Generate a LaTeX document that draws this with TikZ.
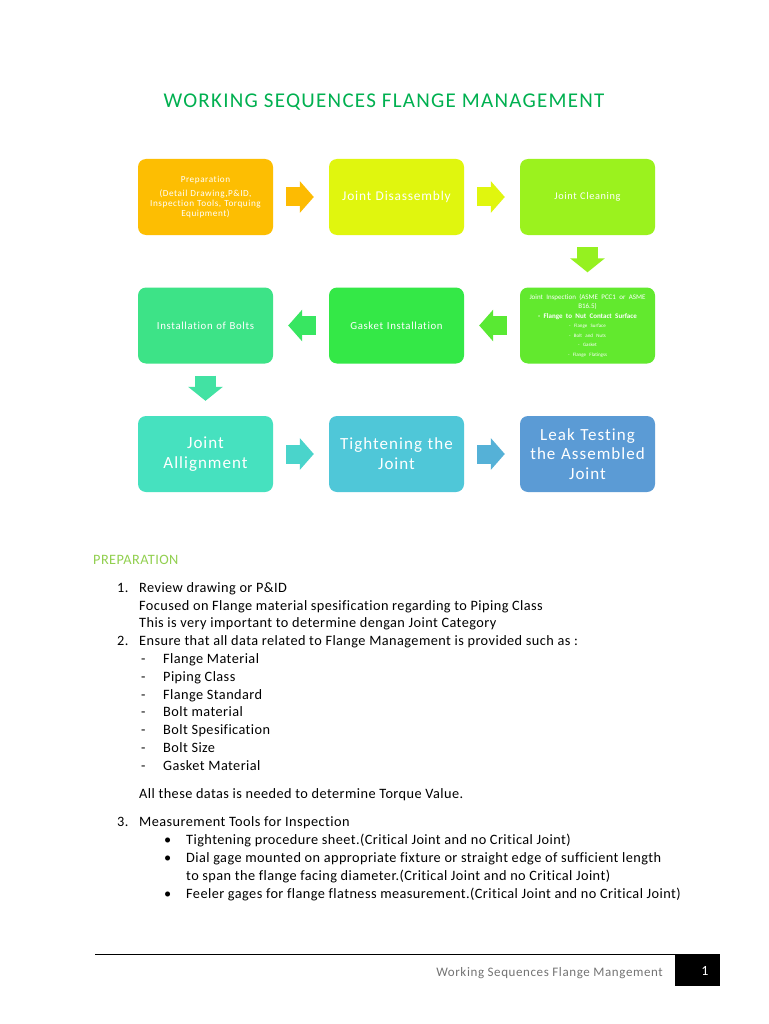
\documentclass[tikz,border=0pt]{standalone}
\usepackage{fontspec}
\setmainfont{Carlito}[Ligatures=NoCommon]
\usetikzlibrary{arrows.meta}

\definecolor{prepC}{HTML}{FDBE02}
\definecolor{disC}{HTML}{E0F60E}
\definecolor{cleC}{HTML}{9BF21E}
\definecolor{inspC}{HTML}{62E92E}
\definecolor{gasC}{HTML}{34E847}
\definecolor{boltC}{HTML}{3DE387}
\definecolor{aligC}{HTML}{46E1BF}
\definecolor{tighC}{HTML}{4FC7D8}
\definecolor{leakC}{HTML}{5B9BD5}
\definecolor{titleC}{HTML}{00B050}
\definecolor{headC}{HTML}{92D050}

\begin{document}
\begin{tikzpicture}[x=1pt, y=-1pt,
  box/.style={rounded corners=8pt, minimum width=135pt, minimum height=76pt, inner sep=2pt, text width=131pt, align=center, text=white},
  blk/.style={line width=19pt, -{Triangle[length=14pt,width=31pt]}, shorten <=13pt, shorten >=15pt},
  blkv/.style={line width=21pt, -{Triangle[length=14pt,width=34pt]}, shorten <=12pt, shorten >=15pt},
  body/.style={anchor=base west, inner sep=0pt, font=\fontsize{14.3}{17.75}\selectfont\addfontfeature{LetterSpace=3}},
  fs/.style 2 args={font=\fontsize{#1}{#2}\selectfont\addfontfeature{LetterSpace=6}}]
            \useasboundingbox (0,0) rectangle (768,1024);
            \fill[white] (0,0) rectangle (768,1024);
            % title
            \node[anchor=base, inner sep=0pt, text=titleC, font=\fontsize{21}{24}\selectfont\addfontfeature{LetterSpace=6}] (title) at (384,108) {WORKING SEQUENCES FLANGE MANAGEMENT};
            % steps
            \node[box, fill=prepC, fs={9.2}{10.2}] (prep) at (205.5,197) {Preparation\\[4pt](Detail Drawing,P\&ID,\\Inspection Tools, Torquing\\Equipment)};
            \node[box, fill=disC, fs={13.4}{16}] (disas) at (396.5,197) {Joint Disassembly};
            \node[box, fill=cleC, fs={10.3}{12}] (clean) at (587.5,197) {Joint Cleaning};
            \node[box, fill=inspC] (insp) at (587.5,325.5) {\fontsize{7}{9.5}\selectfont Joint Inspection (ASME PCC1 or ASME\\B16.5)\par
              \textbf{- Flange to Nut Contact Surface}\par
              \fontsize{5}{9.5}\selectfont - Flange Surface\par - Bolt and Nuts\par - Gasket\par - Flange Flatingss\par};
            \node[box, fill=gasC, fs={10.8}{13}] (gasket) at (396.5,325.5) {Gasket Installation};
            \node[box, fill=boltC, fs={10.8}{13}] (bolts) at (205.5,325.5) {Installation of Bolts};
            \node[box, fill=aligC, fs={17}{20}] (align) at (205.5,454) {Joint\\Allignment};
            \node[box, fill=tighC, fs={17}{20}] (tight) at (396.5,454) {Tightening the\\Joint};
            \node[box, fill=leakC, fs={17}{19.5}] (leak) at (587.5,454) {Leak Testing\\the Assembled\\Joint};
            % arrows
            \draw[blk, color=prepC!95!orange] (prep) -- (disas);
            \draw[blk, color=disC] (disas) -- (clean);
            \draw[blkv, color=cleC!90!inspC] (clean) -- (insp);
            \draw[blk, color=inspC!80!gasC] (insp) -- (gasket);
            \draw[blk, color=gasC!60!boltC] (gasket) -- (bolts);
            \draw[blkv, color=boltC!50!aligC] (bolts) -- (align);
            \draw[blk, color=aligC!50!tighC] (align) -- (tight);
            \draw[blk, color=tighC!50!leakC] (tight) -- (leak);
            % text
            \node[body, text=headC] (prephead) at (93,564.5) {PREPARATION};
            \node[body] (n1) at (117,592.5) {1.};
            \node[body] (l1) at (139,592.5) {Review drawing or P\&ID};
            \node[body] (l2) at (139,610.5) {Focused on Flange material spesification regarding to Piping Class};
            \node[body] (l3) at (139,627.5) {This is very important to determine dengan Joint Category};
            \node[body] (n2) at (117,645.5) {2.};
            \node[body] (l4) at (139,645.5) {Ensure that all data related to Flange Management is provided such as :};
            \node[body] (d1) at (141,663.5) {-};
            \node[body] (i1) at (163,663.5) {Flange Material};
            \node[body] (d2) at (141,681.5) {-};
            \node[body] (i2) at (163,681.5) {Piping Class};
            \node[body] (d3) at (141,699.5) {-};
            \node[body] (i3) at (163,699.5) {Flange Standard};
            \node[body] (d4) at (141,716.5) {-};
            \node[body] (i4) at (163,716.5) {Bolt material};
            \node[body] (d5) at (141,734.5) {-};
            \node[body] (i5) at (163,734.5) {Bolt Spesification};
            \node[body] (d6) at (141,752.5) {-};
            \node[body] (i6) at (163,752.5) {Bolt Size};
            \node[body] (d7) at (141,770.5) {-};
            \node[body] (i7) at (163,770.5) {Gasket Material};
            \node[body] (l5) at (139,798.5) {All these datas is needed to determine Torque Value.};
            \node[body] (n3) at (117,826.5) {3.};
            \node[body] (l6) at (139,826.5) {Measurement Tools for Inspection};
            \node[body] (b1) at (164,844.5) {\textbullet};
            \node[body] (t1) at (186,844.5) {Tightening procedure sheet.(Critical Joint and no Critical Joint)};
            \node[body] (b2) at (164,862.5) {\textbullet};
            \node[body] (t2) at (186,862.5) {Dial gage mounted on appropriate fixture or straight edge of sufficient length};
            \node[body] (t3) at (186,880.5) {to span the flange facing diameter.(Critical Joint and no Critical Joint)};
            \node[body] (b3) at (164,898.5) {\textbullet};
            \node[body] (t4) at (186,898.5) {Feeler gages for flange flatness measurement.(Critical Joint and no Critical Joint)};
            % footer
            \draw[line width=1.5pt] (95,954.5) -- (720,954.5);
            \node[anchor=base east, inner sep=0pt, text=black!55, font=\fontsize{13}{15}\selectfont\addfontfeature{LetterSpace=4.6}] (foot) at (663,976.5) {Working Sequences Flange Mangement};
            \fill[black] (675,955) rectangle (720,986);
            \node[anchor=base, inner sep=0pt, text=white, fs={14}{17}] (page) at (705,975) {1};
        \end{tikzpicture}
\end{document}
